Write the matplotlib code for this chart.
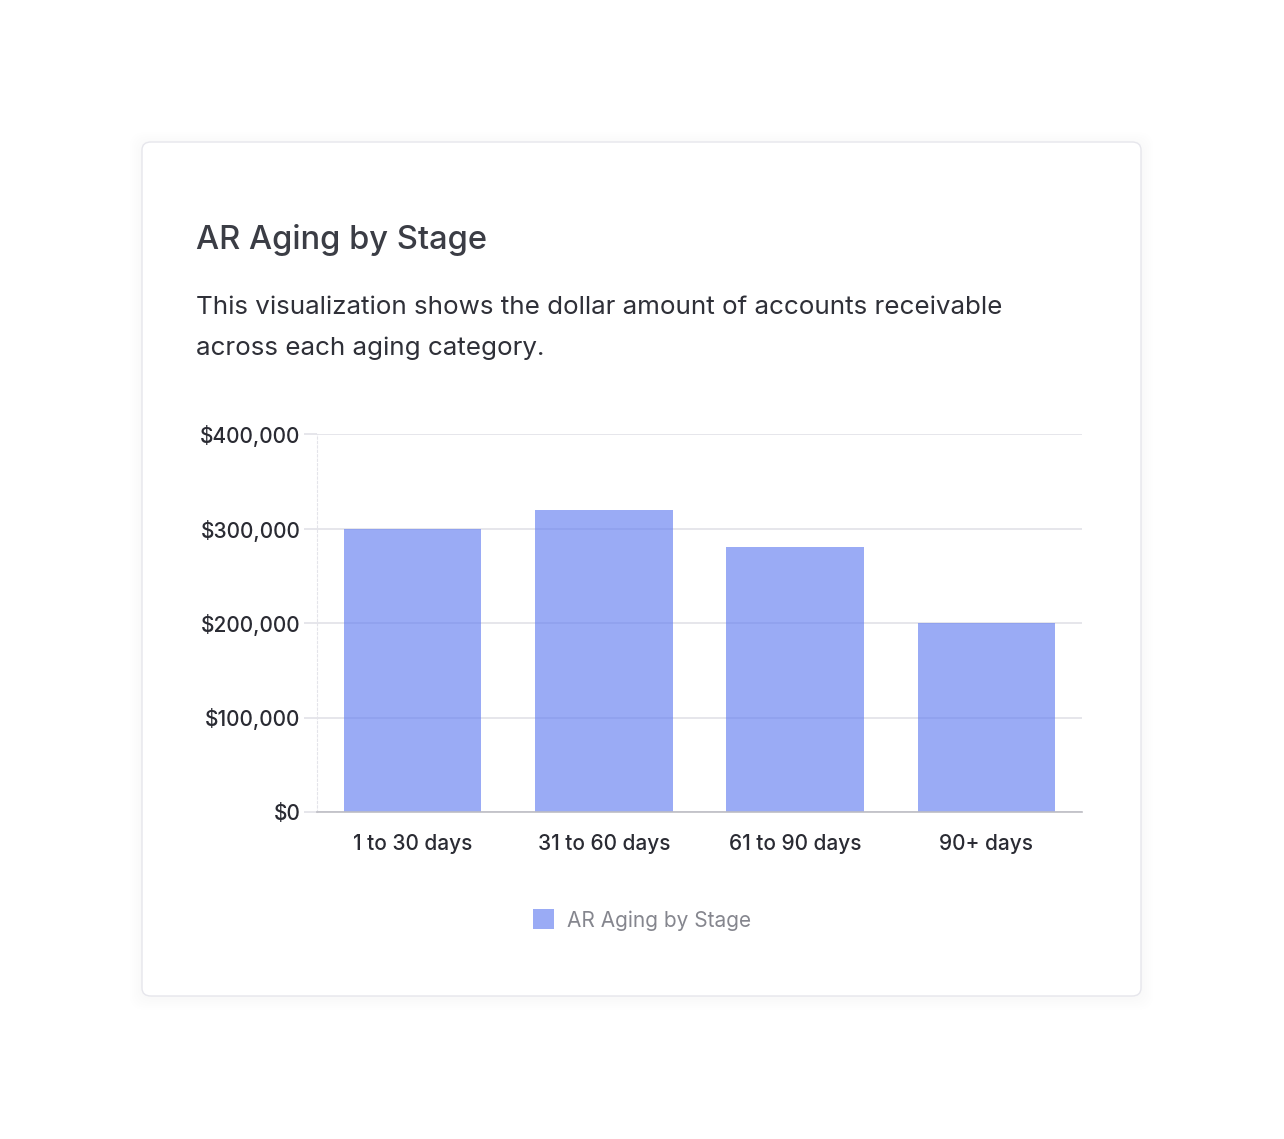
import matplotlib
matplotlib.use('Agg')
import matplotlib.pyplot as plt
from matplotlib.patches import FancyBboxPatch
from matplotlib.ticker import FuncFormatter

categories = ['1 to 30 days', '31 to 60 days', '61 to 90 days', '90+ days']
ar_amounts = [300000, 320000, 280000, 200000]
y_ticks = [0, 100000, 200000, 300000, 400000]

W, H = 1284, 1139
plt.rcParams['font.family'] = ['Inter', 'DejaVu Sans']

fig = plt.figure(figsize=(W / 100, H / 100), dpi=100)
fig.patch.set_facecolor('white')

# card with a very soft shadow
for i in range(6):
    pad = 12 - 2 * i
    sh = FancyBboxPatch(((142 - pad) / W, 1 - (996 + pad + 2) / H),
                        (999 + 2 * pad) / W, (854 + 2 * pad) / H,
                        boxstyle='round,pad=0,rounding_size=0.012',
                        transform=fig.transFigure, facecolor='black',
                        edgecolor='none', alpha=0.005, zorder=0)
    fig.patches.append(sh)
card = FancyBboxPatch((142 / W, 1 - 996 / H), 999 / W, 854 / H,
                      boxstyle='round,pad=0,rounding_size=0.007',
                      transform=fig.transFigure, facecolor='white',
                      edgecolor='#e6e6ec', linewidth=1.0, zorder=1)
fig.patches.append(card)

fig.text(196 / W, 1 - 240 / H, 'AR Aging by Stage', fontsize=23.5,
         color='#3b3d45', va='center', ha='left', fontweight='medium')
fig.text(196 / W, 1 - 307 / H,
         'This visualization shows the dollar amount of accounts receivable',
         fontsize=18.7, color='#2f3038', va='center', ha='left')
fig.text(196 / W, 1 - 348 / H, 'across each aging category.',
         fontsize=18.7, color='#2f3038', va='center', ha='left')

ax = fig.add_axes([317 / W, 1 - 812 / H, (1082 - 317) / W, (812 - 434) / H])
ax.set_facecolor('none')
ax.set_zorder(2)

x = range(len(categories))
ax.bar(x, ar_amounts, width=0.72, color='#6680f0', alpha=0.66,
       label='AR Aging by Stage', zorder=2)

ax.set_xlim(-0.5, len(categories) - 0.5)
ax.set_ylim(0, 400000)
ax.set_yticks(y_ticks)
ax.yaxis.set_major_formatter(FuncFormatter(lambda v, p: f'${v:,.0f}'))
ax.set_xticks(list(x))
ax.set_xticklabels(categories)

ax.grid(axis='y', color='#e2e2e8', linewidth=1.2, zorder=1)
ax.set_axisbelow(True)
for s in ['top', 'right']:
    ax.spines[s].set_visible(False)
ax.spines['left'].set_color('#e4e4ea')
ax.spines['left'].set_linestyle((0, (2, 2)))
ax.spines['bottom'].set_color('#bdbdc4')
ax.spines['bottom'].set_linewidth(1.2)
ax.spines['bottom'].set_zorder(3)

ax.tick_params(axis='y', length=9.5, color='#e2e2e8', width=1.2,
               labelsize=15, labelcolor='#2a2b33', pad=2.5)
ax.tick_params(axis='x', length=0, labelsize=15, labelcolor='#2a2b33', pad=16)
for lab in ax.get_xticklabels() + ax.get_yticklabels():
    lab.set_fontweight('medium')

leg = fig.legend(loc='center', bbox_to_anchor=(642 / W, 1 - 920 / H),
                 frameon=False, fontsize=15, handlelength=1.0, handleheight=1.1,
                 handletextpad=0.6, labelcolor='#85868e')

fig.savefig('out.png', dpi=100, facecolor='white')
